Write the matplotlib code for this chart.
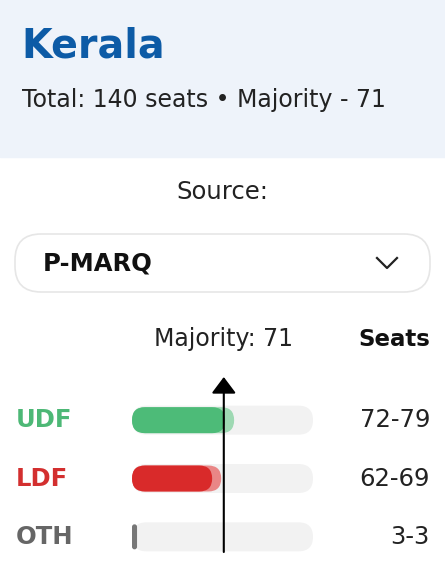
import matplotlib
matplotlib.use('Agg')
import matplotlib.pyplot as plt
from matplotlib.patches import FancyBboxPatch, Rectangle

# Данные
state = 'Kerala'
total_seats = 140
majority = 71
source = 'P-MARQ'
parties = ['UDF', 'LDF', 'OTH']
seats_low = [72, 62, 3]
seats_high = [79, 69, 3]
party_colors = ['#4DBB78', '#D92A2A', '#777777']
light_colors = ['#9ED9B3', '#E98686', '#999999']
label_colors = ['#4DB876', '#D32F2F', '#666666']

W, H = 445, 565
plt.rcParams['font.family'] = ['DejaVu Sans']

fig = plt.figure(figsize=(W / 100, H / 100), dpi=100)
fig.patch.set_facecolor('white')

# Фон и текст в пикселях
ax = fig.add_axes([0, 0, 1, 1])
ax.set_xlim(0, W)
ax.set_ylim(H, 0)
ax.axis('off')

ax.add_patch(Rectangle((0, 0), W, 157, color='#EEF3FA', zorder=0))
ax.text(21, 46, state, fontsize=28.5, fontweight='bold', color='#0D5BA6', va='center')
ax.text(22, 100, f'Total: {total_seats} seats \u2022 Majority - {majority}',
        fontsize=17, color='#222222', va='center')

ax.text(222, 192, 'Source:', fontsize=17.5, color='#222222', ha='center', va='center')
ax.add_patch(FancyBboxPatch((15, 234), 415, 58, boxstyle='round,pad=0,rounding_size=26',
                            fc='white', ec='#E6E6E6', lw=1.2))
ax.text(43, 264, source, fontsize=17.5, fontweight='bold', color='#111111', va='center')
ax.plot([377, 387, 397], [258, 268, 258], color='#222222', lw=1.6)

ax.text(430, 340, 'Seats', fontsize=16.5, fontweight='bold', color='#111111', ha='right', va='center')

# Полосы
bx = fig.add_axes([132 / W, 1 - 566 / H, 181 / W, 175 / H])
bx.set_xlim(0, total_seats)
bx.set_ylim(2.5, -0.5)
bx.axis('off')

px_x = total_seats / 181      # мест на пиксель
px_y = 3 / 175                # строк на пиксель
aspect = px_y / px_x


def rbar(x0, x1, y, h_px, color, z):
    w = x1 - x0
    r = min(h_px / 2 * px_x, w / 2)
    h = h_px * px_y
    bx.add_patch(FancyBboxPatch((x0, y - h / 2), w, h,
                                boxstyle=f'round,pad=0,rounding_size={r}',
                                mutation_aspect=aspect, fc=color, ec='none', zorder=z))


for i, p in enumerate(parties):
    rbar(0, total_seats, i, 29, '#F2F2F2', 1)
    if p == 'OTH':
        rbar(0, seats_high[i] * 1.3, i, 25, party_colors[i], 3)
    else:
        rbar(0, seats_high[i], i, 26, light_colors[i], 2)
        rbar(0, seats_low[i], i, 26, party_colors[i], 3)
    ax.text(16, 391 + (i + 0.5) * 175 / 3, p, fontsize=17.5, fontweight='bold',
            color=label_colors[i], va='center')
    ax.text(430, 391 + (i + 0.5) * 175 / 3, f'{seats_low[i]}-{seats_high[i]}',
            fontsize=17.5, color='#222222', ha='right', va='center')

bx.annotate('', xy=(majority, -0.74), xytext=(majority, 2.26),
            arrowprops=dict(arrowstyle='-|>,head_length=1.0,head_width=0.75',
                            color='black', lw=1.5, shrinkA=0, shrinkB=0),
            annotation_clip=False, zorder=5)
bx.text(majority, -1.4, f'Majority: {majority}', fontsize=17, color='#222222',
        ha='center', va='center', clip_on=False)

fig.savefig('out.png', dpi=100)
